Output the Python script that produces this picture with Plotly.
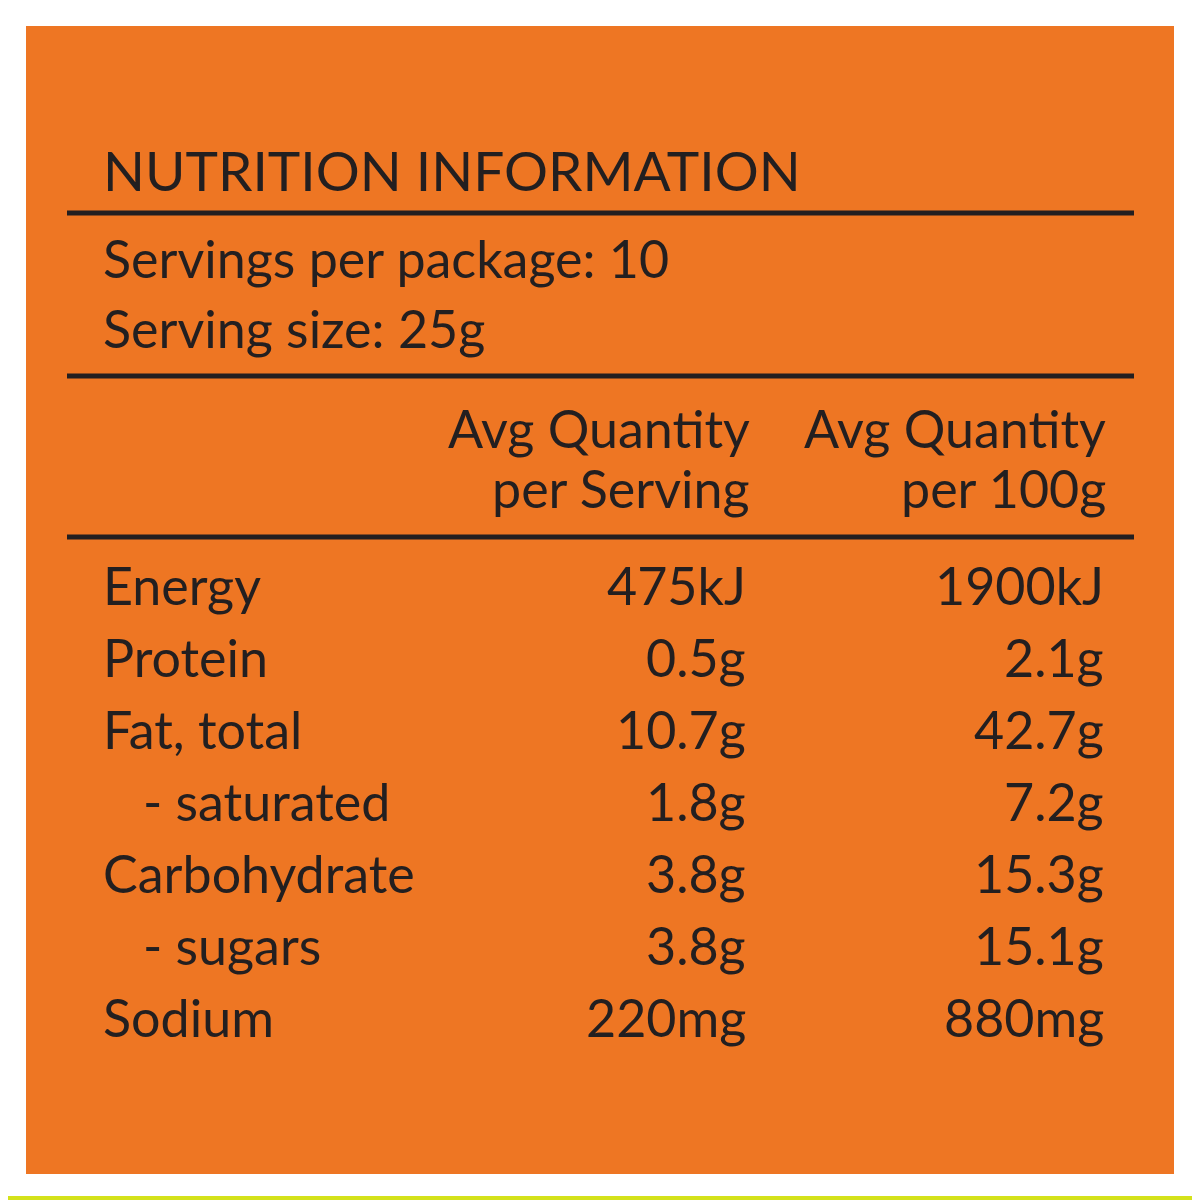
import plotly.graph_objects as go

title = "NUTRITION INFORMATION"
servings_info = ["Servings per package: 10", "Serving size: 25g"]
col_headers = [["Avg Quantity", "per Serving"], ["Avg Quantity", "per 100g"]]
nutrients = ["Energy", "Protein", "Fat, total", "   - saturated", "Carbohydrate", "   - sugars", "Sodium"]
per_serving = ["475kJ", "0.5g", "10.7g", "1.8g", "3.8g", "3.8g", "220mg"]
per_100g = ["1900kJ", "2.1g", "42.7g", "7.2g", "15.3g", "15.1g", "880mg"]

TXT = "#231f20"
ORANGE = "#ee7623"
FONT = "Lato"
FS = 52

fig = go.Figure()
shapes = [
    dict(type="rect", x0=0, y0=0, x1=1200, y1=1200, fillcolor="#d4e21a", line_width=0, layer="below"),
    dict(type="rect", x0=4, y0=4, x1=1196, y1=1196, fillcolor="white", line_width=0, layer="below"),
    dict(type="rect", x0=26, y0=26, x1=1174, y1=1174, fillcolor=ORANGE, line_width=0, layer="below"),
]
for y in [213, 376, 537]:
    shapes.append(dict(type="line", x0=67, x1=1134, y0=y, y1=y, line=dict(color=TXT, width=5)))

ann = []
def t(x, y, s, anchor="left", size=FS):
    ann.append(dict(x=x, y=y, text=s, showarrow=False,
                    xanchor=anchor, yanchor="middle", font=dict(family=FONT, size=size, color=TXT)))

t(101, 170, title, size=55)
for i, s in enumerate(servings_info):
    t(101, 258 + 70 * i, s)
for j, xr in enumerate([752, 1108]):
    for k, s in enumerate(col_headers[j]):
        t(xr, 428 + 60 * k, s, anchor="right")
for i, n in enumerate(nutrients):
    y = 585 + 72 * i
    t(101, y, n.replace(" ", "&nbsp;"))
    t(748, y, per_serving[i], anchor="right")
    t(1106, y, per_100g[i], anchor="right")

fig.update_layout(width=1200, height=1200, margin=dict(l=0, r=0, t=0, b=0),
                  paper_bgcolor="white", plot_bgcolor="white", shapes=shapes, annotations=ann,
                  xaxis=dict(range=[8, 1208], visible=False),
                  yaxis=dict(range=[1208, 8], visible=False), showlegend=False)
fig.write_html("out.html")
